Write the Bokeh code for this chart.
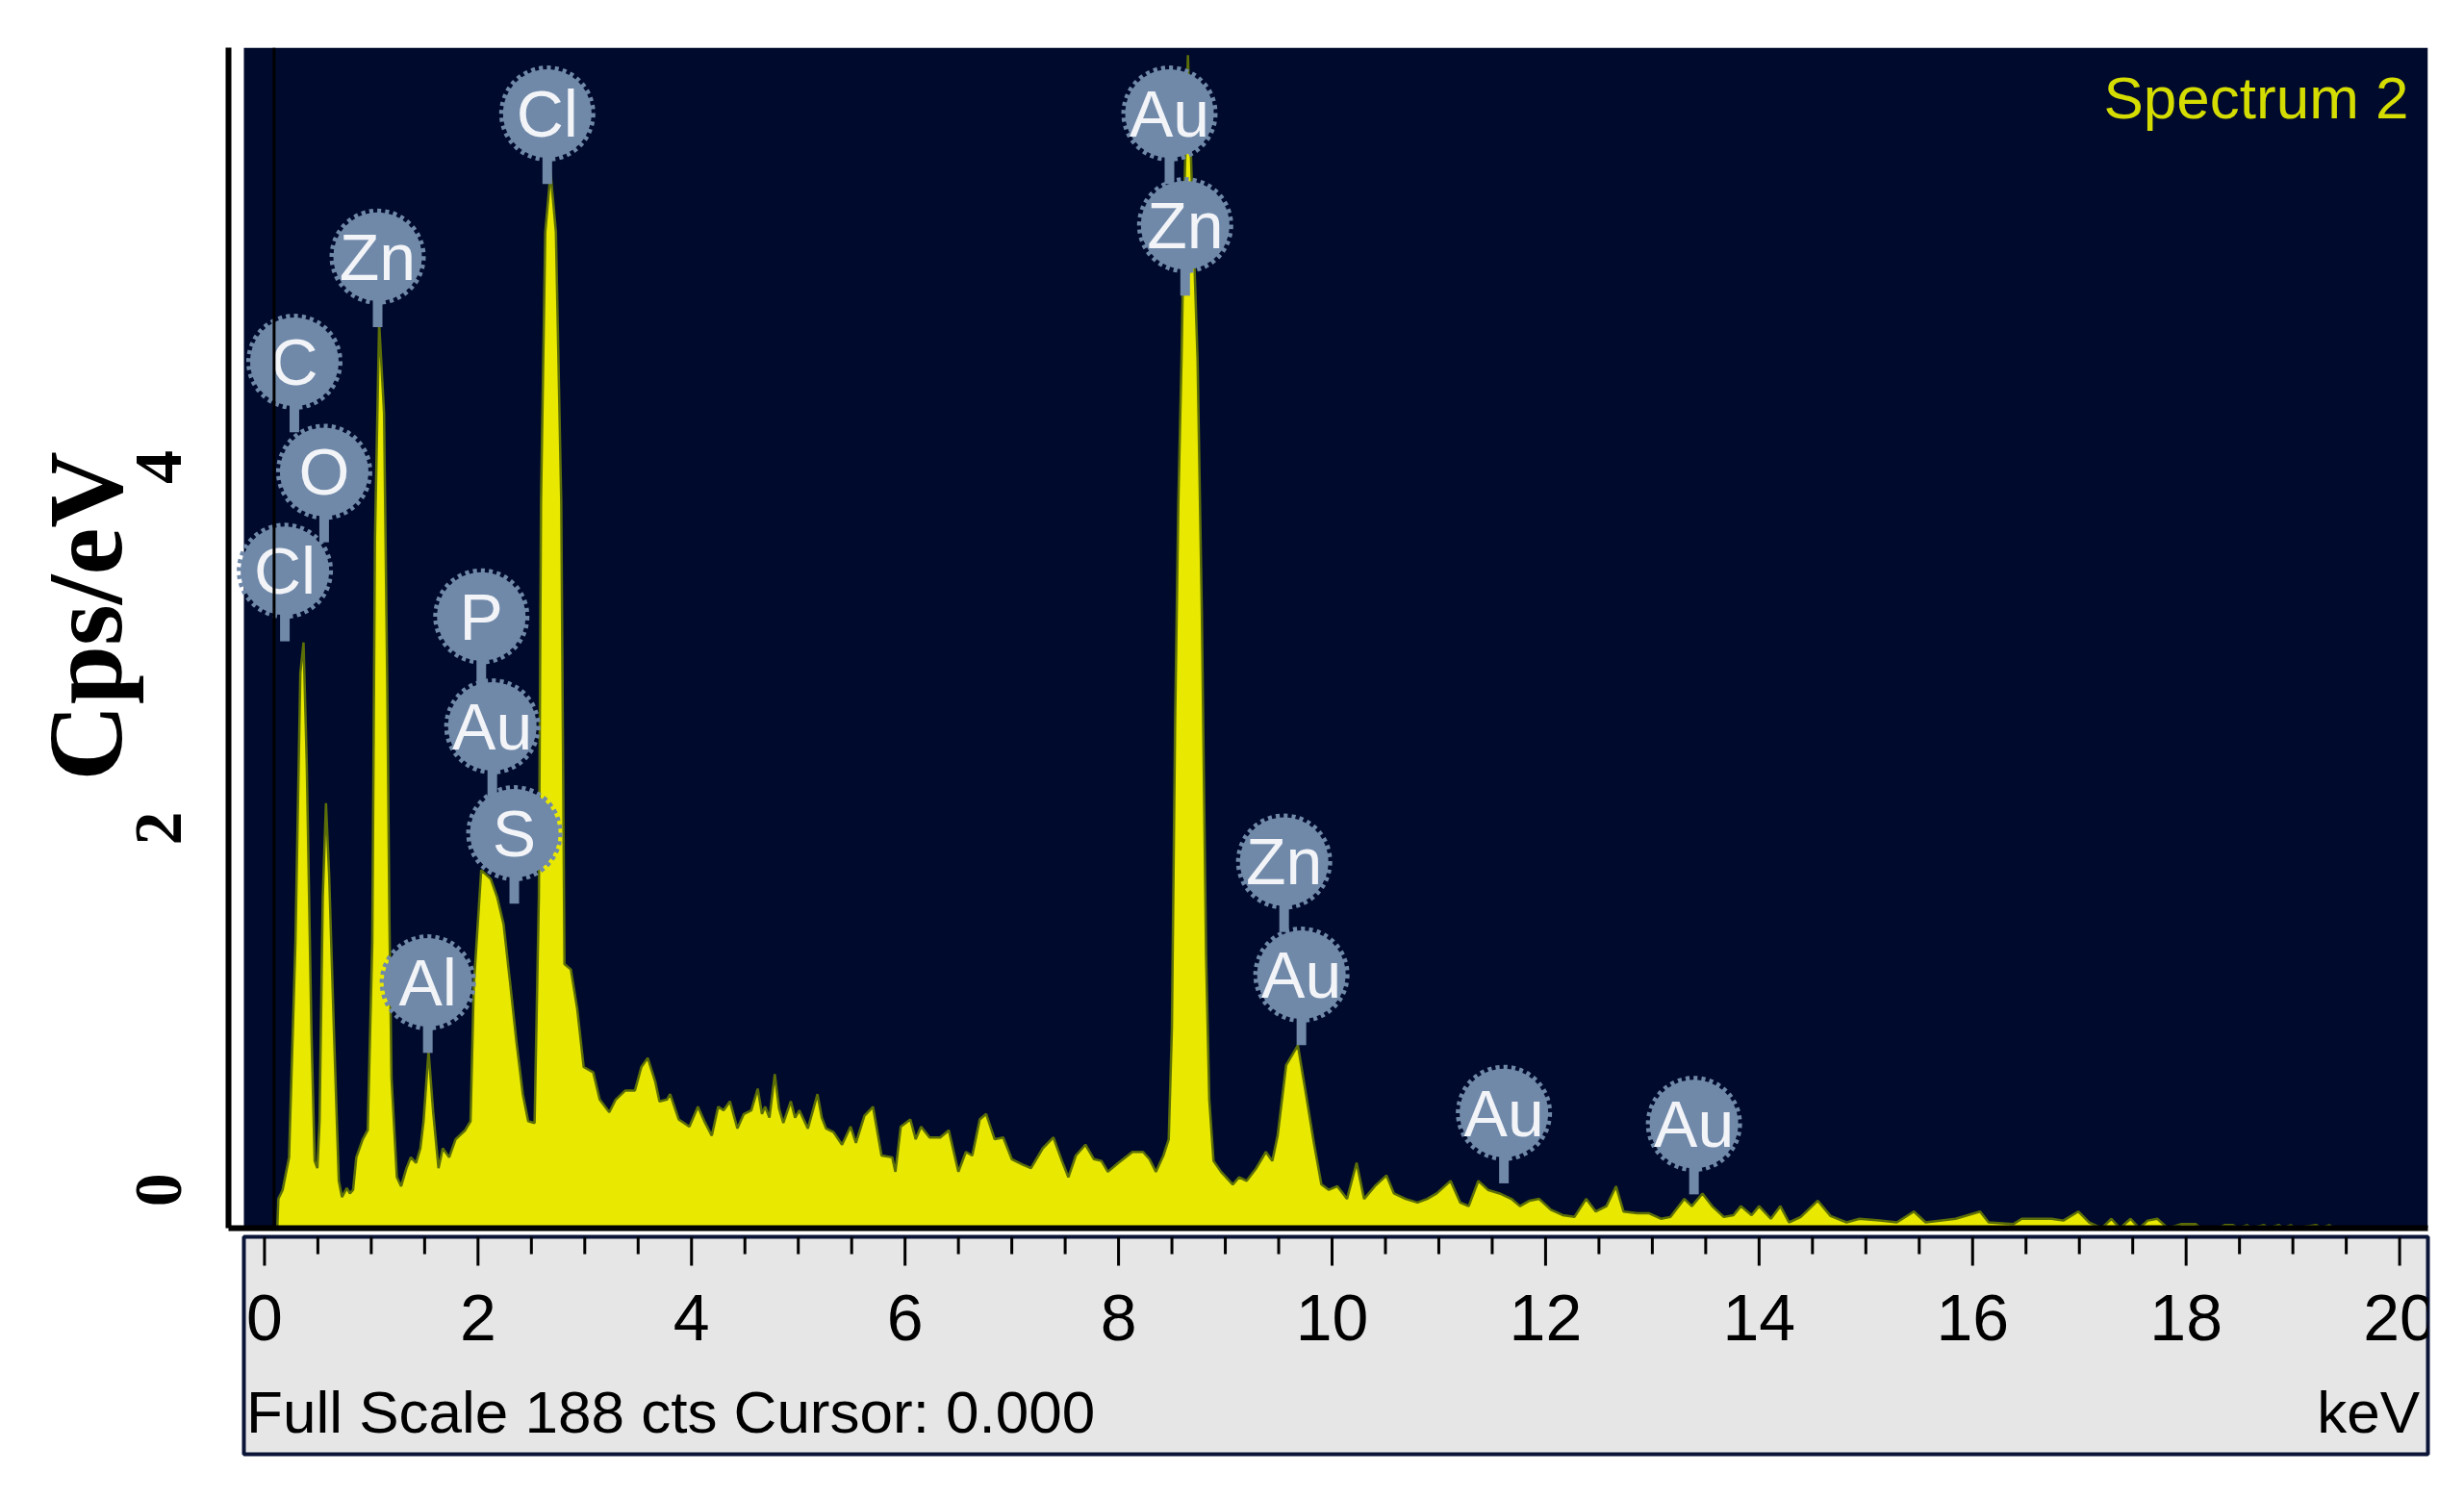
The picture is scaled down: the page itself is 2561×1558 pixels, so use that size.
import math
from bokeh.plotting import figure
from bokeh.layouts import column, row
from bokeh.models import Range1d, FixedTicker, Span, Label, ColumnDataSource, BoxAnnotation
from bokeh.core.properties import value
from bokeh.embed import file_html
from bokeh.resources import INLINE

# ---------------- data ----------------
energy_kev = [0.12, 0.13, 0.17, 0.23, 0.29, 0.336, 0.366, 0.396, 0.44, 0.47, 0.495, 0.516, 0.546, 0.576,
              0.606, 0.651, 0.696, 0.726, 0.771, 0.80, 0.83, 0.86, 0.92, 0.967, 1.01, 1.035, 1.074, 1.12,
              1.15, 1.17, 1.19, 1.24, 1.28, 1.33, 1.37, 1.42, 1.46, 1.49, 1.537, 1.58, 1.63, 1.67, 1.73,
              1.79, 1.88, 1.93, 1.96, 2.03, 2.12, 2.18, 2.24, 2.30, 2.36, 2.42, 2.47, 2.53, 2.57, 2.59,
              2.63, 2.68, 2.73, 2.78, 2.81, 2.87, 2.93, 2.99, 3.08, 3.14, 3.23, 3.29, 3.38, 3.47, 3.53,
              3.59, 3.66, 3.70, 3.77, 3.80, 3.88, 3.98, 4.06, 4.12, 4.19, 4.25, 4.30, 4.36, 4.43, 4.49,
              4.56, 4.62, 4.66, 4.69, 4.73, 4.78, 4.82, 4.86, 4.93, 4.97, 5.01, 5.09, 5.18, 5.22, 5.26,
              5.33, 5.41, 5.49, 5.54, 5.62, 5.70, 5.78, 5.88, 5.91, 5.96, 6.05, 6.10, 6.15, 6.23, 6.33,
              6.41, 6.50, 6.57, 6.63, 6.70, 6.76, 6.84, 6.92, 7.00, 7.10, 7.18, 7.29, 7.39, 7.47, 7.53,
              7.60, 7.69, 7.77, 7.84, 7.90, 8.00, 8.13, 8.23, 8.29, 8.35, 8.42, 8.47, 8.50, 8.53, 8.56,
              8.59, 8.62, 8.65, 8.69, 8.74, 8.78, 8.82, 8.85, 8.89, 8.96, 9.07, 9.13, 9.20, 9.29, 9.38,
              9.44, 9.49, 9.57, 9.68, 9.75, 9.83, 9.90, 9.97, 10.05, 10.14, 10.23, 10.30, 10.40, 10.51,
              10.58, 10.69, 10.80, 10.89, 10.98, 11.11, 11.20, 11.28, 11.37, 11.46, 11.57, 11.68, 11.76,
              11.85, 11.94, 12.05, 12.16, 12.27, 12.38, 12.47, 12.57, 12.66, 12.73, 12.86, 12.97, 13.08,
              13.17, 13.30, 13.37, 13.47, 13.56, 13.67, 13.76, 13.83, 13.93, 14.00, 14.11, 14.20, 14.28,
              14.39, 14.55, 14.67, 14.82, 14.94, 15.13, 15.29, 15.45, 15.56, 15.84, 16.07, 16.15, 16.38,
              16.46, 16.74, 16.85, 16.99, 17.09, 17.21, 17.30, 17.38, 17.48, 17.56, 17.64, 17.73, 17.83,
              17.95, 18.09, 18.14, 18.30, 18.36, 18.44, 18.49, 18.57, 18.61, 18.73, 18.77, 18.87, 18.91,
              18.98, 19.02, 19.22, 19.26, 19.34, 19.39]
cps_per_ev = [-0.212, -0.05, 0.00, 0.18, 1.37, 2.86, 3.03, 2.36, 0.87, 0.16, 0.12, 0.38, 1.62, 2.14,
              1.74, 0.87, 0.05, -0.04, 0.01, -0.02, 0.00, 0.18, 0.28, 0.33, 1.37, 3.6, 4.80, 4.3,
              2.8, 1.5, 0.62, 0.07, 0.02, 0.12, 0.18, 0.15, 0.23, 0.38, 0.77, 0.43, 0.12, 0.23, 0.18,
              0.28, 0.33, 0.38, 1.12, 1.77, 1.72, 1.62, 1.47, 1.15, 0.82, 0.53, 0.38, 0.37, 1.62, 3.8,
              5.3, 5.63, 5.3, 3.8, 1.25, 1.22, 1.00, 0.68, 0.65, 0.50, 0.43, 0.50, 0.55, 0.55, 0.68,
              0.73, 0.60, 0.49, 0.50, 0.53, 0.39, 0.35, 0.46, 0.38, 0.30, 0.46, 0.44, 0.49, 0.34, 0.42,
              0.44, 0.56, 0.42, 0.46, 0.40, 0.64, 0.45, 0.37, 0.49, 0.40, 0.44, 0.34, 0.53, 0.40, 0.34,
              0.32, 0.25, 0.35, 0.26, 0.41, 0.46, 0.19, 0.18, 0.10, 0.35, 0.39, 0.28, 0.35, 0.29, 0.29,
              0.33, 0.10, 0.21, 0.19, 0.39, 0.42, 0.28, 0.29, 0.17, 0.14, 0.12, 0.23, 0.29, 0.16, 0.07,
              0.19, 0.25, 0.17, 0.16, 0.10, 0.15, 0.21, 0.21, 0.17, 0.10, 0.19, 0.28, 0.9, 2.6, 3.8,
              4.6, 5.6, 6.28, 5.5, 4.6, 3.2, 1.3, 0.5, 0.16, 0.10, 0.03, 0.07, 0.05, 0.12, 0.21,
              0.16, 0.30, 0.69, 0.80, 0.55, 0.26, 0.03, 0.00, 0.02, -0.05, 0.15, -0.05, 0.02, 0.08,
              -0.02, -0.05, -0.07, -0.05, -0.02, 0.05, -0.07, -0.09, 0.05, 0.00, -0.02, -0.05, -0.09,
              -0.06, -0.05, -0.11, -0.14, -0.15, -0.05, -0.12, -0.09, 0.02, -0.12, -0.13, -0.13, -0.16,
              -0.15, -0.05, -0.09, -0.02, -0.09, -0.15, -0.14, -0.09, -0.14, -0.09, -0.16, -0.09, -0.18,
              -0.15, -0.06, -0.145, -0.18, -0.16, -0.17, -0.18, -0.12, -0.18, -0.16, -0.12, -0.18, -0.19,
              -0.16, -0.16, -0.17, -0.12, -0.18, -0.212, -0.16, -0.212, -0.16, -0.212, -0.17, -0.16, -0.212,
              -0.19, -0.19, -0.212, -0.212, -0.195, -0.195, -0.212, -0.195, -0.212, -0.195, -0.212, -0.195, -0.212,
              -0.195, -0.212, -0.195, -0.212, -0.195, -0.212]

peak_labels = ["Cl", "Au", "Zn", "Zn", "C", "O", "Cl", "P", "Au", "S", "Al", "Zn", "Au", "Au", "Au"]
label_kev = [2.649, 8.477, 8.624, 1.060, 0.280, 0.559, 0.191, 2.031, 2.134, 2.340, 1.530,
             9.551, 9.713, 11.61, 13.39]
label_cps = [5.957, 5.957, 5.339, 5.165, 4.583, 3.974, 3.426, 3.174, 2.565, 1.974, 1.148,
             1.817, 1.191, 0.426, 0.365]

y_ticks = [0, 2, 4]
y_tick_labels = [str(t) for t in y_ticks]
x_ticks = [0, 2, 4, 6, 8, 10, 12, 14, 16, 18, 20]
x_tick_labels = [str(t) for t in x_ticks]
x_minor_ticks = [0.5, 1, 1.5, 2.5, 3, 3.5, 4.5, 5, 5.5, 6.5, 7, 7.5, 8.5, 9, 9.5, 10.5, 11, 11.5,
                 12.5, 13, 13.5, 14.5, 15, 15.5, 16.5, 17, 17.5, 18.5, 19, 19.5]
y_title = "Cps/eV"
spectrum_name = "Spectrum 2"
footer_text = "Full Scale 188 cts Cursor: 0.000"
unit_text = "keV"

# ---------------- styles ----------------
NAVY = "#000a2c"
YELLOW = "#e8e800"
EDGE = "#5c6e08"
BUBBLE = "#7089a9"
BUBBLE_TEXT = "#f2f4f8"
W = 2545
WL = 233
HA = 1280
Y0 = -0.212
Y1 = 6.322

# ---------------- main spectrum panel ----------------
pA = figure(width=W - WL, height=HA, x_range=Range1d(-0.337, 20.265), y_range=Range1d(Y0, Y1),
            output_backend="svg", toolbar_location=None,
            min_border_left=4, min_border_right=22, min_border_top=49, min_border_bottom=4)
pA.background_fill_color = "white"
pA.border_fill_color = "white"
pA.outline_line_color = None
pA.grid.visible = False

pA.add_layout(BoxAnnotation(left=-0.193, fill_color=NAVY, fill_alpha=1.0, line_color=None, level="underlay"))

src = ColumnDataSource(dict(e=energy_kev, c=cps_per_ev))
pA.varea(x="e", y1=Y0, y2="c", source=src, fill_color=YELLOW)
pA.line(x="e", y="c", source=src, line_color=EDGE, line_width=2.5)

stem_end = [c - 0.39 for c in label_cps]
pA.segment(x0=label_kev, y0=label_cps, x1=label_kev, y1=stem_end, line_color=BUBBLE, line_width=10)
pA.scatter(x=label_kev, y=label_cps, marker="circle", size=92, fill_color=BUBBLE,
           line_color=BUBBLE, line_width=8, line_dash="4 4")
pA.text(x=label_kev, y=label_cps, text=peak_labels, text_align="center", text_baseline="middle",
        text_font=value("Liberation Sans"), text_font_size="68px", text_color=BUBBLE_TEXT)

pA.add_layout(Span(location=0.09, dimension="height", line_color="black", line_width=3))
pA.add_layout(Label(x=20.085, y=6.045, text=spectrum_name, text_align="right", text_baseline="middle",
                    text_font="Liberation Sans", text_font_size="62px", text_color="#d4dc00"))

for ax in (pA.yaxis, pA.xaxis):
    ax.ticker = FixedTicker(ticks=[])
    ax.axis_line_width = 6
    ax.axis_line_color = "black"
    ax.major_tick_line_color = None
    ax.minor_tick_line_color = None
    ax.major_tick_out = 0
    ax.major_tick_in = 0
    ax.major_label_standoff = 0

# ---------------- left strip: y tick labels and title ----------------
pL = figure(width=WL, height=HA, x_range=Range1d(0, WL), y_range=pA.y_range,
            output_backend="svg", toolbar_location=None,
            min_border_left=0, min_border_right=0, min_border_top=49, min_border_bottom=4)
pL.background_fill_color = "white"
pL.border_fill_color = "white"
pL.outline_line_color = None
pL.grid.visible = False
pL.xaxis.visible = False
pL.yaxis.visible = False
pL.text(x=164, y=y_ticks, text=y_tick_labels, angle=math.pi / 2, text_align="center",
        text_baseline="middle", text_font=value("Liberation Serif"), text_font_style="bold",
        text_font_size="70px", text_color="black")
pL.text(x=88, y=3.175, text=[y_title], angle=math.pi / 2, text_align="center",
        text_baseline="middle", text_font=value("Liberation Serif"), text_font_style="bold",
        text_font_size="110px", text_color="black")

# ---------------- energy scale box ----------------
BH = 226
pB = figure(width=W, height=241, x_range=Range1d(-0.193, 20.265), y_range=Range1d(0, 1),
            output_backend="svg", toolbar_location=None,
            min_border_left=253, min_border_right=22, min_border_top=5, min_border_bottom=10)
pB.background_fill_color = "#e6e6e6"
pB.border_fill_color = "white"
pB.outline_line_color = "#0b1538"
pB.outline_line_width = 4
pB.grid.visible = False
pB.xaxis.visible = False
pB.yaxis.visible = False

pB.segment(x0=x_ticks, y0=1.0, x1=x_ticks, y1=1.0 - 30 / BH, line_color="black", line_width=3)
pB.segment(x0=x_minor_ticks, y0=1.0, x1=x_minor_ticks, y1=1.0 - 18 / BH, line_color="black", line_width=3)
pB.text(x=x_ticks, y=0.628, text=x_tick_labels, text_align="center", text_baseline="middle",
        text_font=value("Liberation Sans"), text_font_size="68px", text_color="black")
pB.add_layout(Label(x=-0.17, y=0.195, text=footer_text, text_align="left", text_baseline="middle",
                    text_font="Liberation Sans", text_font_size="62px", text_color="black"))
pB.add_layout(Label(x=20.19, y=0.195, text=unit_text, text_align="right", text_baseline="middle",
                    text_font="Liberation Sans", text_font_size="62px", text_color="black"))

layout = column(row(pL, pA), pB)
open("out.html", "w").write(file_html(layout, INLINE))
